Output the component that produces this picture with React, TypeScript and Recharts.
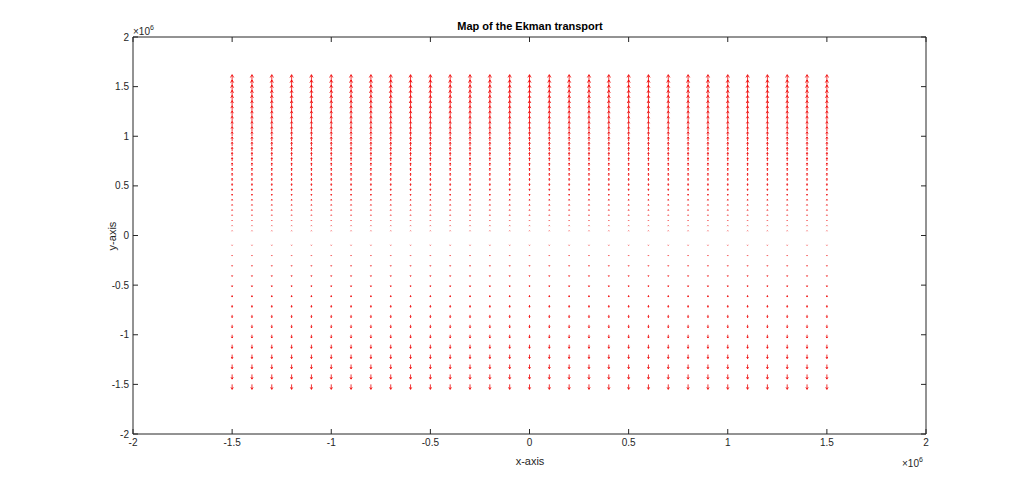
import { ScatterChart, Scatter, XAxis, YAxis } from "recharts";

// values in units of 1e6 (MATLAB shows "x10^6" on both axes)
const columnX = [
  -1.5, -1.4, -1.3, -1.2, -1.1, -1.0, -0.9, -0.8, -0.7, -0.6, -0.5, -0.4, -0.3, -0.2, -0.1, 0,
  0.1, 0.2, 0.3, 0.4, 0.5, 0.6, 0.7, 0.8, 0.9, 1.0, 1.1, 1.2, 1.3, 1.4, 1.5,
];

const northRowY = [
  0.05, 0.1, 0.15, 0.2, 0.25, 0.3, 0.35, 0.4, 0.45, 0.5, 0.55, 0.6, 0.65, 0.7, 0.75, 0.8,
  0.85, 0.9, 0.95, 1.0, 1.05, 1.1, 1.15, 1.2, 1.25, 1.3, 1.35, 1.4, 1.45, 1.5, 1.55,
];
const northRowV = [
  0.002, 0.004, 0.006, 0.009, 0.011, 0.013, 0.015, 0.018, 0.02, 0.022, 0.025, 0.027, 0.029,
  0.031, 0.034, 0.036, 0.038, 0.04, 0.043, 0.045, 0.047, 0.049, 0.052, 0.054, 0.056, 0.058,
  0.061, 0.063, 0.065, 0.067, 0.07,
];

const southRowY = [-1.5, -1.4, -1.3, -1.2, -1.1, -1.0, -0.9, -0.8, -0.7, -0.6, -0.5, -0.4, -0.3, -0.2, -0.1];
const southRowV = [
  -0.05, -0.047, -0.043, -0.04, -0.037, -0.033, -0.03, -0.027, -0.023, -0.02, -0.017, -0.013,
  -0.01, -0.007, -0.003,
];

const axisTicks = [-2, -1.5, -1, -0.5, 0, 0.5, 1, 1.5, 2];

const rowY = [...southRowY, ...northRowY];
const rowV = [...southRowV, ...northRowV];
const arrows = rowY.flatMap((y, i) => columnX.map((x) => ({ x, y, v: rowV[i] })));

const W = 1024;
const H = 489;
const MARGIN = { top: 32, right: 93, bottom: 25, left: 93 };
const PLOT_H = H - MARGIN.top - 5 - MARGIN.bottom - 30;
const PX_PER_UNIT = PLOT_H / 4;

const FONT = '"Liberation Sans", Arial, sans-serif';
const AXIS_COLOR = "#262626";

function Arrow(props: any) {
  const { cx, cy, payload } = props;
  if (cx == null || cy == null) return null;
  const len = payload.v * PX_PER_UNIT;
  const tipY = cy - len;
  const head = Math.max(1, Math.abs(len) * 0.4);
  const dir = len >= 0 ? 1 : -1;
  const op = Math.min(1, 0.45 + Math.abs(len) / 4);
  return (
    <g stroke="#f00000" strokeWidth={0.8} fill="none" opacity={op}>
      <line x1={cx} y1={cy} x2={cx} y2={tipY} />
      <polyline
        points={`${cx - head * 0.6},${tipY + dir * head} ${cx},${tipY} ${cx + head * 0.6},${tipY + dir * head}`}
      />
    </g>
  );
}

function Exponent({ x, y }: { x: number; y: number }) {
  return (
    <text x={x} y={y} fontSize={10} fill={AXIS_COLOR} fontFamily={FONT}>
      ×10
      <tspan fontSize={7} dy={-5}>
        6
      </tspan>
    </text>
  );
}

export default function App() {
  const fmt = (v: number) => String(v);
  return (
    <div style={{ position: "absolute", left: 0, top: 0, width: W, height: H, background: "#fff" }}>
      <ScatterChart width={W} height={H} margin={MARGIN} style={{ fontFamily: FONT }}>
        <XAxis
          xAxisId="bottom"
          type="number"
          dataKey="x"
          domain={[-2, 2]}
          ticks={axisTicks}
          allowDataOverflow
          height={30}
          tickSize={-5}
          tickMargin={10}
          tickFormatter={fmt}
          axisLine={{ stroke: AXIS_COLOR }}
          tickLine={{ stroke: AXIS_COLOR }}
          tick={{ fill: AXIS_COLOR, fontSize: 10 }}
        />
        <XAxis
          xAxisId="top"
          orientation="top"
          type="number"
          dataKey="x"
          domain={[-2, 2]}
          ticks={axisTicks}
          allowDataOverflow
          height={5}
          tickSize={-5}
          tickFormatter={() => ""}
          axisLine={{ stroke: AXIS_COLOR }}
          tickLine={{ stroke: AXIS_COLOR }}
        />
        <YAxis
          yAxisId="left"
          type="number"
          dataKey="y"
          domain={[-2, 2]}
          ticks={axisTicks}
          allowDataOverflow
          width={40}
          tickSize={-5}
          tickMargin={9}
          tickFormatter={fmt}
          axisLine={{ stroke: AXIS_COLOR }}
          tickLine={{ stroke: AXIS_COLOR }}
          tick={{ fill: AXIS_COLOR, fontSize: 10 }}
        />
        <YAxis
          yAxisId="right"
          orientation="right"
          type="number"
          dataKey="y"
          domain={[-2, 2]}
          ticks={axisTicks}
          allowDataOverflow
          width={5}
          tickSize={-5}
          tickFormatter={() => ""}
          axisLine={{ stroke: AXIS_COLOR }}
          tickLine={{ stroke: AXIS_COLOR }}
        />
        <Scatter
          xAxisId="bottom"
          yAxisId="left"
          data={arrows}
          shape={(p: any) => <Arrow {...p} />}
          isAnimationActive={false}
        />
      </ScatterChart>
      <svg
        width={W}
        height={H}
        style={{ position: "absolute", left: 0, top: 0, pointerEvents: "none" }}
      >
        <text x={530} y={30} textAnchor="middle" fontSize={11} fontWeight="bold" fill="#000" fontFamily={FONT}>
          Map of the Ekman transport
        </text>
        <text x={530} y={465} textAnchor="middle" fontSize={11} fill={AXIS_COLOR} fontFamily={FONT}>
          x-axis
        </text>
        <text
          x={116}
          y={236}
          textAnchor="middle"
          fontSize={11}
          fill={AXIS_COLOR}
          fontFamily={FONT}
          transform="rotate(-90 116 236)"
        >
          y-axis
        </text>
        <Exponent x={133} y={35} />
        <Exponent x={902} y={467} />
      </svg>
    </div>
  );
}
